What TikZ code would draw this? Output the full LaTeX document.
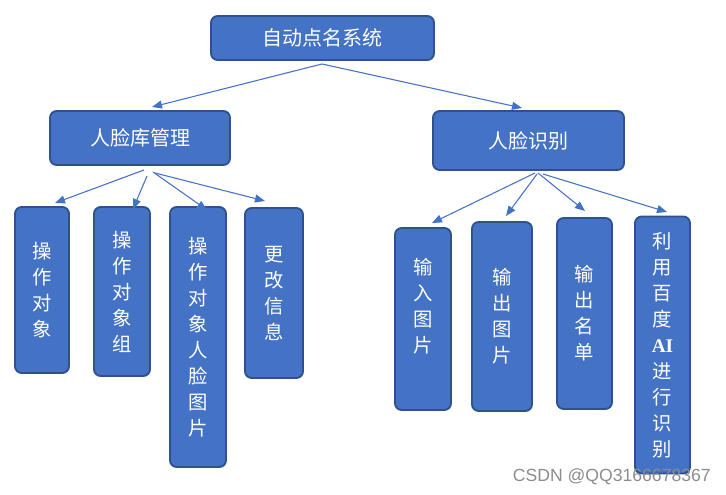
\documentclass[tikz,border=0pt]{standalone}
\usepackage{fontspec}
\setmainfont{Noto Sans CJK SC}
\newfontfamily\latserif{Liberation Serif}
\newfontfamily\wmfont{Liberation Sans}
\usetikzlibrary{arrows.meta}
\definecolor{boxfill}{HTML}{4472C4}
\definecolor{boxline}{HTML}{2F528F}
\definecolor{arrowcol}{HTML}{4472C4}
\tikzset{
  box/.style 2 args={draw=boxline, fill=boxfill, line width=1.4pt, rounded corners=5pt,
    minimum width=#1*0.75pt, minimum height=#2*0.75pt, inner sep=0pt, text=white, align=center},
  bigtxt/.style={font=\fontsize{15pt}{18pt}\selectfont},
  coltxt/.style={font=\fontsize{14.5pt}{19.5pt}\selectfont},
  conn/.style={draw=arrowcol, line width=0.8pt, -{Triangle[length=7.5pt,width=6pt]}},
}
\begin{document}
\begin{tikzpicture}[x=0.75pt,y=-0.75pt]
\useasboundingbox (0,0) rectangle (726,495);
% boxes
\node[box={223}{44}, bigtxt] (top) at (322.5,38) {自动点名系统};
\node[box={180}{54}, bigtxt] (lib) at (140,138) {人脸库管理};
\node[box={191}{59}, bigtxt] (rec) at (528.5,140.5) {人脸识别};
\node[box={54}{166}, coltxt] (c1) at (42,290) {操\\作\\对\\象};
\node[box={56}{169}, coltxt] (c2) at (122,291.5) {操\\作\\对\\象\\组};
\node[box={56}{260}, coltxt] (c3) at (198,337) {操\\作\\对\\象\\人\\脸\\图\\片};
\node[box={58}{170}, coltxt] (c4) at (274,293) {更\\改\\信\\息};
\node[box={56}{182}] (r1) at (423,319) {};
\node[coltxt, text=white, align=center, inner sep=0pt] (r1t) at (423,306) {输\\入\\图\\片};
\node[box={60}{189}, coltxt] (r2) at (502,316.5) {输\\出\\图\\片};
\node[box={55}{191}, coltxt] (r3) at (584.5,313.5) {输\\出\\名\\单};
\node[box={55}{257}, coltxt] (r4) at (662.5,345) {利\\用\\百\\度\\{\latserif\bfseries AI}\\进\\行\\识\\别};
% connector coordinates
\coordinate (ts) at (322,64);
\coordinate (te1) at (152,107);
\coordinate (te2) at (522,108);
\coordinate (ls1) at (144,170);
\coordinate (le1) at (55,203);
\coordinate (ls2) at (147,176);
\coordinate (le2) at (133,209);
\coordinate (ls3) at (153,172);
\coordinate (le3) at (207,210);
\coordinate (ls4) at (155,173);
\coordinate (le4) at (265,201);
\coordinate (rs1) at (535,173);
\coordinate (re1) at (432,223);
\coordinate (rs2) at (537,174);
\coordinate (re2) at (506,216);
\coordinate (rs3) at (538,173);
\coordinate (re3) at (585,211);
\coordinate (rs4) at (543,174);
\coordinate (re4) at (667,212);
\draw[conn] (ts) -- (te1);
\draw[conn] (ts) -- (te2);
\draw[conn] (ls1) -- (le1);
\draw[conn] (ls2) -- (le2);
\draw[conn] (ls3) -- (le3);
\draw[conn] (ls4) -- (le4);
\draw[conn] (rs1) -- (re1);
\draw[conn] (rs2) -- (re2);
\draw[conn] (rs3) -- (re3);
\draw[conn] (rs4) -- (re4);
% watermark
\node[font=\wmfont\fontsize{13.2pt}{15pt}\selectfont, text=black!45, anchor=east, inner sep=0pt] (wm) at (711,477) {CSDN @QQ3166678367};
\end{tikzpicture}
\end{document}
